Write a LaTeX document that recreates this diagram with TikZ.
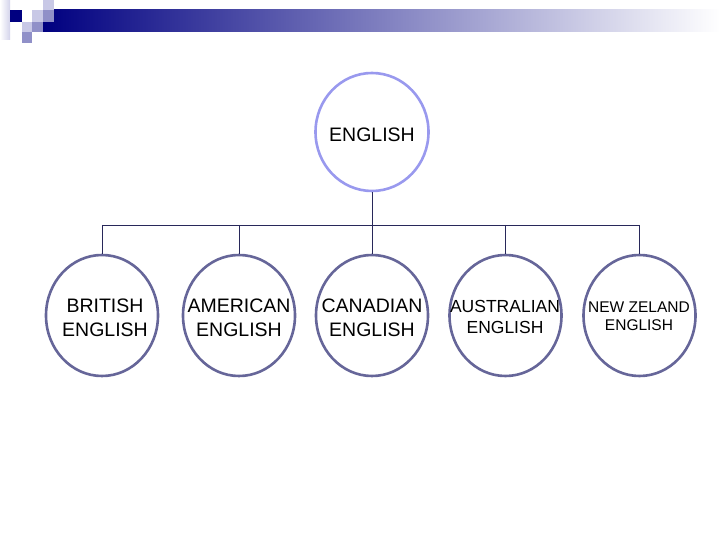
\documentclass[tikz,border=0pt]{standalone}
\usepackage{fontspec}
\setmainfont{Liberation Sans}
\usetikzlibrary{shapes.geometric,calc}
\definecolor{navy}{RGB}{0,0,128}
\definecolor{lightsq}{RGB}{200,200,230}
\definecolor{midsq}{RGB}{144,144,200}
\definecolor{topring}{RGB}{153,153,238}
\definecolor{ring}{RGB}{102,102,153}
\definecolor{link}{RGB}{40,40,90}
\tikzset{
  topcirc/.style={ellipse,draw=topring,line width=2.6pt,minimum width=113pt,minimum height=118pt,inner sep=0pt},
  subcirc/.style={ellipse,draw=ring,line width=2.6pt,minimum width=112pt,minimum height=121pt,inner sep=0pt},
  lbl/.style={align=center,inner sep=0pt,text=black},
  conn/.style={draw=link,line width=0.9pt}
}
\begin{document}
\begin{tikzpicture}[x=1pt,y=-1pt]
\useasboundingbox (0,0) rectangle (720,540);
% header bar
\shade[left color=navy,right color=white] (43,10) rectangle (720,32);
\shade[left color=white,right color=lightsq!80] (0,0) rectangle (10,40);
\fill[navy] (10,10) rectangle (22,22);
\fill[white] (22,10) rectangle (32,22);
\fill[lightsq] (32,10) rectangle (43,22);
\fill[lightsq] (43,0) rectangle (54,10);
\fill[midsq] (43,10) rectangle (54,22);
\fill[lightsq] (22,22) rectangle (32,32);
\fill[midsq] (32,22) rectangle (43,32);
\fill[midsq] (22,32) rectangle (32,43);
% circles
\node[topcirc] (top) at (372,132) {};
\node[subcirc] (c1) at (102,315.5) {};
\node[subcirc] (c2) at (239,315.5) {};
\node[subcirc] (c3) at (372,315.5) {};
\node[subcirc] (c4) at (505.5,315.5) {};
\node[subcirc] (c5) at (639.5,315.5) {};
% labels
\node[lbl,font=\fontsize{19.5}{24}\selectfont] (t0) at (372,135) {ENGLISH};
\node[lbl,font=\fontsize{19.5}{24}\selectfont] (t1) at (105,318) {BRITISH\\ENGLISH};
\node[lbl,font=\fontsize{19.5}{24}\selectfont] (t2) at (239,318) {AMERICAN\\ENGLISH};
\node[lbl,font=\fontsize{19.5}{24}\selectfont] (t3) at (372,318) {CANADIAN\\ENGLISH};
\node[lbl,font=\fontsize{17.5}{21}\selectfont] (t4) at (505,317) {AUSTRALIAN\\ENGLISH};
\node[lbl,font=\fontsize{15.5}{18}\selectfont] (t5) at (639,316) {NEW ZELAND\\ENGLISH};
% connectors
\coordinate (bar) at (372,225);
\draw[conn] (top.south) -- (bar);
\draw[conn] (bar -| c1.north) -- (bar -| c5.north);
\foreach \i in {1,...,5} { \draw[conn] (bar -| c\i.north) -- (c\i.north); }
\end{tikzpicture}
\end{document}
